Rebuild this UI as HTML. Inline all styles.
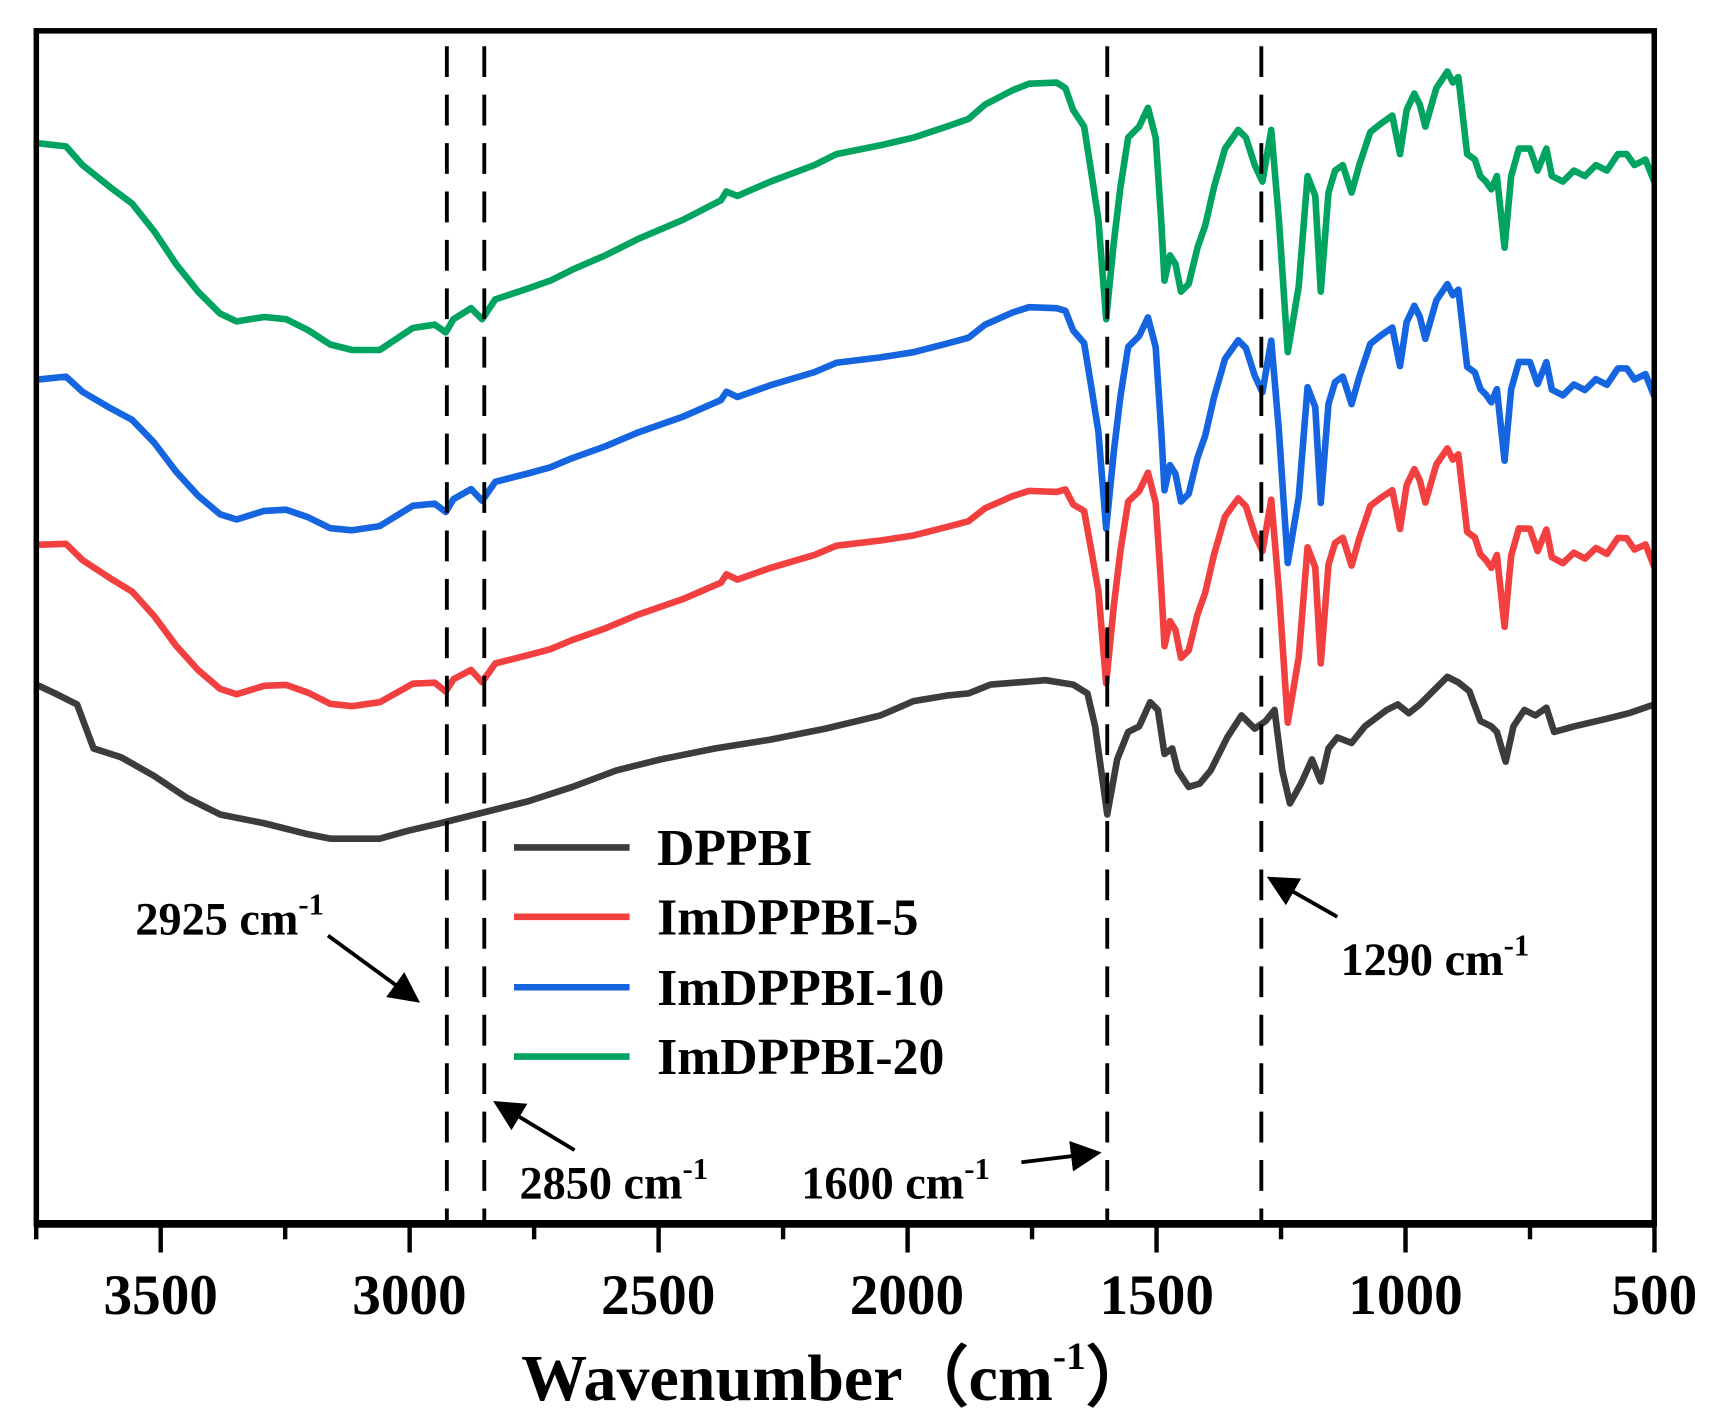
<!DOCTYPE html>
<html><head><meta charset="utf-8"><style>
html,body{margin:0;padding:0;background:#fff;}
svg{display:block;}
text{font-family:"Liberation Serif",serif;font-weight:bold;fill:#000;}
</style></head><body>
<svg id="s" width="1717" height="1422" viewBox="0 0 1560 1292" preserveAspectRatio="none" xmlns="http://www.w3.org/2000/svg">
<rect x="0" y="0" width="1560" height="1292" fill="#fff"/>
<g id="curves" fill="none" stroke-width="6" stroke-linejoin="round"></g>
<g stroke="#000" stroke-width="3.5" stroke-dasharray="28,16">
<line x1="406" y1="42" x2="406" y2="1112"/>
<line x1="440" y1="42" x2="440" y2="1112"/>
<line x1="1006" y1="42" x2="1006" y2="1112"/>
<line x1="1146" y1="42" x2="1146" y2="1112"/>
</g>
<rect x="33" y="28" width="1470" height="1084" fill="none" stroke="#000" stroke-width="5"/>
<line x1="31" y1="1112" x2="1505" y2="1112" stroke="#000" stroke-width="7"/>
<g stroke="#000" stroke-width="4" id="ticks"></g>
<g font-size="52" text-anchor="middle">
<text x="146" y="1194">3500</text><text x="372" y="1194">3000</text><text x="598" y="1194">2500</text>
<text x="824" y="1194">2000</text><text x="1051" y="1194">1500</text><text x="1277" y="1194">1000</text><text x="1503" y="1194">500</text>
</g>
<text x="760" y="1272" font-size="60" text-anchor="middle">Wavenumber（cm<tspan font-size="36" dy="-28">-1</tspan><tspan dy="28">）</tspan></text>
<g stroke-width="6">
<line x1="467" y1="770" x2="572" y2="770" stroke="#3c3c3c"/>
<line x1="467" y1="833" x2="572" y2="833" stroke="#f24040"/>
<line x1="467" y1="897" x2="572" y2="897" stroke="#1565e0"/>
<line x1="467" y1="960" x2="572" y2="960" stroke="#00a460"/>
</g>
<g font-size="47">
<text x="597" y="786">DPPBI</text><text x="597" y="849">ImDPPBI-5</text>
<text x="597" y="913">ImDPPBI-10</text><text x="597" y="976">ImDPPBI-20</text>
</g>
<g font-size="42">
<text x="123" y="849">2925 cm<tspan font-size="28" dy="-18">-1</tspan></text>
<text x="472" y="1089">2850 cm<tspan font-size="28" dy="-18">-1</tspan></text>
<text x="728" y="1089">1600 cm<tspan font-size="28" dy="-18">-1</tspan></text>
<text x="1218" y="886">1290 cm<tspan font-size="28" dy="-18">-1</tspan></text>
</g>
<defs><marker id="ah" markerWidth="8" markerHeight="8" refX="6" refY="4" orient="auto" markerUnits="strokeWidth"><path d="M0,0 L8,4 L0,8 z" fill="#000"/></marker></defs>
<g stroke="#000" stroke-width="3.5" marker-end="url(#ah)">
<line x1="298" y1="850" x2="376" y2="907"/>
<line x1="522" y1="1045" x2="454" y2="1004"/>
<line x1="928" y1="1056" x2="994" y2="1048"/>
<line x1="1215" y1="833" x2="1157" y2="800"/>
</g>
</svg>
<script>
var G=[[33,130],[60,133],[75,150],[100,170],[120,185],[140,210],[160,240],[180,265],[200,285],[215,292],[240,288],[260,290],[280,300],[300,313],[320,318],[345,318],[360,308],[375,298],[395,295],[405,302],[412,290],[428,280],[438,290],[450,272],[480,262],[500,255],[520,245],[550,232],[580,217],[620,200],[655,182],[660,174],[670,178],[700,165],[740,150],[760,140],[800,132],[830,125],[860,115],[880,108],[895,95],[920,82],[935,76],[960,75],[968,80],[975,100],[985,115],[992,160],[998,200],[1005,290],[1012,220],[1018,170],[1025,125],[1035,115],[1043,98],[1050,125],[1055,200],[1058,255],[1063,232],[1068,240],[1073,265],[1080,258],[1088,225],[1095,205],[1103,170],[1113,135],[1125,118],[1132,125],[1140,150],[1147,165],[1155,118],[1162,200],[1170,320],[1180,260],[1188,160],[1195,178],[1200,265],[1207,175],[1213,155],[1220,150],[1228,175],[1235,150],[1245,120],[1255,112],[1265,105],[1272,140],[1278,100],[1285,85],[1290,95],[1295,115],[1305,80],[1315,65],[1320,75],[1325,70],[1333,140],[1340,145],[1345,160],[1350,165],[1355,172],[1360,160],[1367,225],[1373,160],[1380,135],[1390,135],[1397,155],[1405,135],[1410,160],[1420,165],[1430,155],[1440,160],[1450,150],[1460,155],[1470,140],[1478,140],[1485,150],[1495,145],[1503,165]];
var K=[[33,622],[50,630],[70,640],[85,680],[110,688],[140,705],[170,725],[200,740],[240,748],[280,758],[300,762],[345,762],[370,755],[400,748],[440,738],[480,728],[520,715],[560,700],[600,690],[650,680],[700,672],[750,662],[800,650],[830,637],[860,632],[880,630],[900,622],[950,618],[975,622],[988,630],[995,660],[1006,740],[1015,690],[1025,665],[1035,660],[1045,638],[1052,645],[1058,685],[1065,680],[1070,700],[1080,715],[1090,712],[1100,700],[1115,670],[1128,650],[1140,662],[1150,655],[1158,645],[1165,700],[1172,730],[1182,712],[1192,690],[1200,710],[1207,680],[1215,670],[1228,675],[1240,660],[1260,645],[1270,640],[1280,648],[1290,640],[1300,630],[1315,615],[1325,620],[1335,628],[1345,655],[1355,660],[1360,665],[1368,692],[1375,660],[1385,645],[1395,650],[1405,643],[1412,665],[1430,660],[1460,653],[1480,648],[1503,640]];
function interp(t,x){for(var i=0;i<t.length-1;i++){if(x<=t[i+1][0]){var f=(x-t[i][0])/(t[i+1][0]-t[i][0]);return t[i][1]+f*(t[i+1][1]-t[i][1]);}}return t[t.length-1][1];}
var OB=[[33,215],[150,190],[345,160],[440,165],[960,205],[1006,190],[1503,195]];
var OR=[[33,365],[345,320],[440,330],[960,372],[1006,330],[1503,350]];
function path(pts,off){return pts.map(function(p,i){return (i?'L':'M')+p[0]+','+(p[1]+(off?interp(off,p[0]):0)).toFixed(1);}).join('');}
var g=document.getElementById('curves');
function add(d,c){var e=document.createElementNS('http://www.w3.org/2000/svg','path');e.setAttribute('d',d);e.setAttribute('stroke',c);g.appendChild(e);}
add(path(K),'#3c3c3c');add(path(G,OR),'#f24040');add(path(G,OB),'#1565e0');add(path(G),'#00a460');
var tk=document.getElementById('ticks');
for(var w=3750;w>=500;w-=250){var x=146+(3500-w)*0.4524;var major=(w%500===0);var l=document.createElementNS('http://www.w3.org/2000/svg','line');l.setAttribute('x1',x);l.setAttribute('x2',x);l.setAttribute('y1',1112);l.setAttribute('y2',major?1138:1126);tk.appendChild(l);}
</script>
</body></html>
